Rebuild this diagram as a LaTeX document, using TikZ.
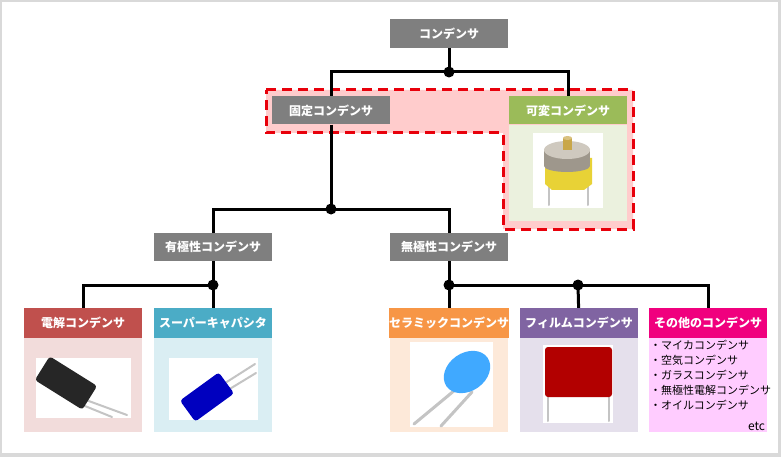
\documentclass[tikz,border=0pt]{standalone}
\usepackage{fontspec}
\setmainfont{Noto Sans CJK JP}
\usetikzlibrary{positioning}

\definecolor{framegray}{HTML}{D9D9D9}
\definecolor{hdgray}{HTML}{7F7F7F}
\definecolor{hdgreen}{HTML}{9BBB59}
\definecolor{bggreen}{HTML}{EBF1DE}
\definecolor{hdred}{HTML}{C0504D}
\definecolor{bgred}{HTML}{F2DCDB}
\definecolor{hdaqua}{HTML}{4BACC6}
\definecolor{bgaqua}{HTML}{DAEEF3}
\definecolor{hdorange}{HTML}{F79646}
\definecolor{bgorange}{HTML}{FDE9D9}
\definecolor{hdpurple}{HTML}{8064A2}
\definecolor{bgpurple}{HTML}{E5E0EC}
\definecolor{hdpink}{HTML}{F0007E}
\definecolor{bgpink}{HTML}{FFCCFF}
\definecolor{bandpink}{HTML}{FFCCCC}
\definecolor{bandred}{HTML}{E8000B}
\definecolor{leadgray}{HTML}{C4C4C4}
\definecolor{trimyellow}{HTML}{E8D236}
\definecolor{trimgray}{HTML}{9E978C}
\definecolor{trimtop}{HTML}{CFC9BF}
\definecolor{brass}{HTML}{C9A74A}

\tikzset{
  hd/.style={fill=#1, text=white, minimum width=118pt, minimum height=28pt,
    inner sep=0pt, font=\fontsize{12}{14}\selectfont\bfseries},
  bd/.style={fill=#1, minimum width=118pt, minimum height=94pt, inner sep=0pt},
  link/.style={line width=3pt},
  jdot/.style={circle, fill=black, inner sep=0pt, minimum size=11pt},
  photo/.style={fill=white},
  lead/.style={leadgray, line width=2pt, line cap=round}
}

\begin{document}
\begin{tikzpicture}[x=1pt, y=-1pt]
  \useasboundingbox (0,0) rectangle (781,457);
  \fill[framegray] (0,0) rectangle (781,457);
  \fill[white] (2,2) rectangle (778,453);

  % fixed / variable band
  \draw[bandred, fill=bandpink, line width=3pt, dash pattern=on 10pt off 6pt]
    (266,90) -- (633,90) -- (633,229) -- (503,229) -- (503,133) -- (266,133) -- cycle;

  % headers
  \node[hd=hdgray, minimum height=29pt] (cap) at (449,33.5) {コンデンサ};
  \node[hd=hdgray] (fixed) at (331,110.5) {固定コンデンサ};
  \node[hd=hdgreen] (var) at (568,110.5) {可変コンデンサ};
  \node[bd=bggreen, minimum height=96pt, below=0pt of var] (varbody) {};
  \node[hd=hdgray] (polar) at (213,247) {有極性コンデンサ};
  \node[hd=hdgray] (npolar) at (449,247) {無極性コンデンサ};

  \node[hd=hdred, minimum height=30pt] (elec) at (83,323) {電解コンデンサ};
  \node[hd=hdaqua, minimum height=30pt] (super) at (213,323) {スーパーキャパシタ};
  \node[hd=hdorange, minimum height=30pt] (cera) at (449,323) {セラミックコンデンサ};
  \node[hd=hdpurple, minimum height=30pt] (film) at (579,323) {フィルムコンデンサ};
  \node[hd=hdpink, minimum height=30pt] (other) at (708,323) {その他のコンデンサ};

  \node[bd=bgred, below=0pt of elec] (elecbody) {};
  \node[bd=bgaqua, below=0pt of super] (superbody) {};
  \node[bd=bgorange, below=0pt of cera] (cerabody) {};
  \node[bd=bgpurple, below=0pt of film] (filmbody) {};
  \node[bd=bgpink, below=0pt of other] (otherbody) {};

  % connectors
  \node[jdot] (j1) at (449,72) {};
  \node[jdot] (j2) at (331,209) {};
  \node[jdot] (j3) at (213,285) {};
  \node[jdot] (j4) at (449,285) {};
  \node[jdot] (j5) at (578,285) {};
  \draw[link] (cap) -- (j1.center);
  \draw[link] (j1.center) -| (fixed);
  \draw[link] (j1.center) -| (var);
  \draw[link] (fixed) -- (j2.center);
  \draw[link] (j2.center) -| (polar);
  \draw[link] (j2.center) -| (npolar);
  \draw[link] (polar) -- (j3.center);
  \draw[link] (j3.center) -| (elec);
  \draw[link] (j3.center) -- (super);
  \draw[link] (npolar) -- (j4.center);
  \draw[link] (j4.center) -- (cera);
  \draw[link] (j4.center) -- (j5.center);
  \draw[link] (j5.center) -- (film);
  \draw[link] (j5.center) -| (other);

  % trimmer
  \fill[photo] (533,133) rectangle (603,208);
  \draw[lead] (549,186) -- (549,205);
  \draw[lead] (588,186) -- (588,205);
  \fill[trimyellow] (545,158) -- (592,158) -- (592,184) -- (584,190) -- (552,190) -- (545,184) -- cycle;
  \fill[trimgray] (544,150) rectangle (590,166);
  \fill[trimgray] (567,166) ellipse (23pt and 6pt);
  \fill[trimtop] (567,150) ellipse (23pt and 9pt);
  \fill[brass] (563,138) rectangle (572,150);
  \fill[brass!70!white] (567.5,138) ellipse (4.5pt and 2pt);

  % electrolytic
  \fill[photo] (36,358) rectangle (131,418);
  \draw[lead] (86,400) -- (127,415);
  \draw[lead] (80,404) -- (112,417);
  \node[fill=black!85, rounded corners=3pt, minimum width=56pt, minimum height=28pt,
    rotate=-32] (eleccan) at (66,383) {};

  % super capacitor
  \fill[photo] (169,358) rectangle (258,420);
  \draw[lead] (222,385) -- (255,364);
  \draw[lead] (228,390) -- (256,373);
  \node[fill=blue!75!black, rounded corners=3pt, minimum width=48pt, minimum height=26pt,
    rotate=36] (supercan) at (207,397) {};

  % ceramic
  \fill[photo] (410,342) rectangle (493,427);
  \draw[lead, line width=3pt] (455,390) -- (414,424);
  \draw[lead, line width=3pt] (472,392) -- (441,426);
  \fill[blue!45!cyan!75!white, rotate around={35:(467,372)}] (467,372) ellipse (25pt and 19pt);

  % film
  \fill[photo] (543,345) rectangle (613,423);
  \draw[lead] (548,395) -- (548,421);
  \draw[lead] (609,395) -- (609,421);
  \fill[red!70!black, rounded corners=3pt] (545,347) rectangle (612,397);

  % other list
  \node[anchor=north west, align=left, inner sep=0pt, font=\fontsize{11}{15}\selectfont]
    (otherlist) at ([xshift=1pt,yshift=-2pt]otherbody.north west)
    {・マイカコンデンサ\\・空気コンデンサ\\・ガラスコンデンサ\\・無極性電解コンデンサ\\・オイルコンデンサ};
  \node[anchor=south east, inner sep=2pt, font=\fontsize{12}{14}\selectfont]
    (etc) at (otherbody.south east) {etc};
\end{tikzpicture}
\end{document}
